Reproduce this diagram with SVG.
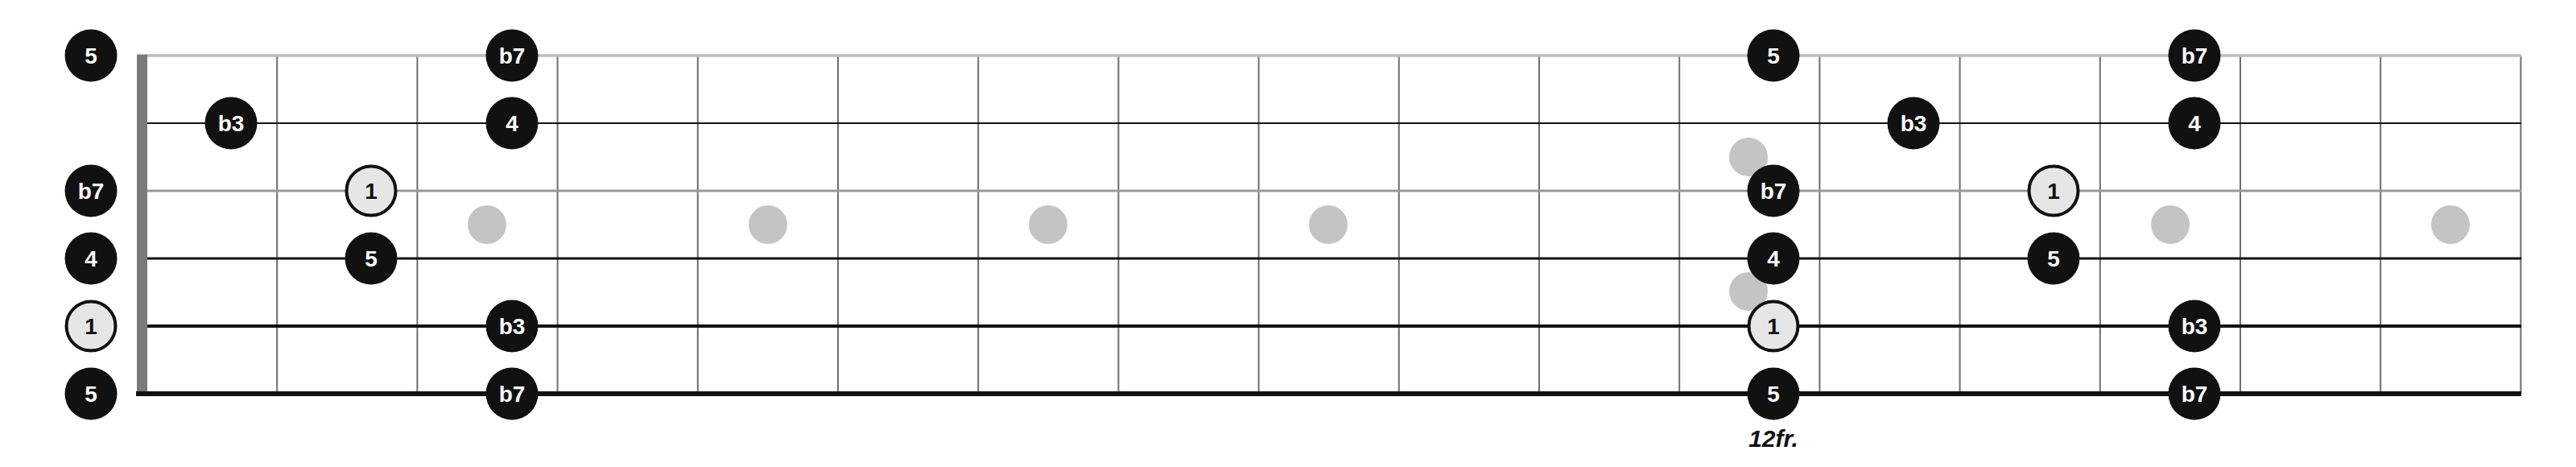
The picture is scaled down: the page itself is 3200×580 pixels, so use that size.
<svg xmlns="http://www.w3.org/2000/svg" width="3200" height="580" viewBox="0 0 3200 580">
<style>
.fret{stroke:#6e6e6e;stroke-width:2}
.dot{fill:#c4c4c4}
.n circle{fill:#111}
.n text{fill:#fff;font-family:"Liberation Sans",Arial,sans-serif;font-weight:bold;font-size:28px;text-anchor:middle}
.r circle{fill:#e6e6e6;stroke:#111;stroke-width:4}
.r text{fill:#111;font-family:"Liberation Sans",Arial,sans-serif;font-weight:bold;font-size:28px;text-anchor:middle}
.lbl{font-family:"Liberation Sans",Arial,sans-serif;font-weight:bold;font-style:italic;font-size:30px;text-anchor:middle;fill:#111}
</style>
<rect width="3200" height="580" fill="#fff"/>
<g id="fretboard">
<g id="frets">
<line class="fret" x1="344.2" y1="69" x2="344.2" y2="489"/>
<line class="fret" x1="518.4" y1="69" x2="518.4" y2="489"/>
<line class="fret" x1="692.6" y1="69" x2="692.6" y2="489"/>
<line class="fret" x1="866.8" y1="69" x2="866.8" y2="489"/>
<line class="fret" x1="1041" y1="69" x2="1041" y2="489"/>
<line class="fret" x1="1215.2" y1="69" x2="1215.2" y2="489"/>
<line class="fret" x1="1389.4" y1="69" x2="1389.4" y2="489"/>
<line class="fret" x1="1563.6" y1="69" x2="1563.6" y2="489"/>
<line class="fret" x1="1737.8" y1="69" x2="1737.8" y2="489"/>
<line class="fret" x1="1912" y1="69" x2="1912" y2="489"/>
<line class="fret" x1="2086.2" y1="69" x2="2086.2" y2="489"/>
<line class="fret" x1="2260.4" y1="69" x2="2260.4" y2="489"/>
<line class="fret" x1="2434.6" y1="69" x2="2434.6" y2="489"/>
<line class="fret" x1="2608.8" y1="69" x2="2608.8" y2="489"/>
<line class="fret" x1="2783" y1="69" x2="2783" y2="489"/>
<line class="fret" x1="2957.2" y1="69" x2="2957.2" y2="489"/>
<line class="fret" x1="3131.4" y1="69" x2="3131.4" y2="489"/>
</g>
<g id="strings">
<line x1="170" y1="69" x2="3132" y2="69" stroke="#bdbdbd" stroke-width="3.5"/>
<line x1="170" y1="153" x2="3132" y2="153" stroke="#111" stroke-width="2"/>
<line x1="170" y1="237" x2="3132" y2="237" stroke="#9a9a9a" stroke-width="3"/>
<line x1="170" y1="321" x2="3132" y2="321" stroke="#111" stroke-width="3"/>
<line x1="170" y1="405" x2="3132" y2="405" stroke="#111" stroke-width="4"/>
<line x1="169" y1="489" x2="3132" y2="489" stroke="#111" stroke-width="6"/>
</g>
<rect id="nut" x="170" y="68" width="13" height="418" fill="#7a7a7a"/>
<g id="inlays">
<circle class="dot" cx="605" cy="279" r="24"/>
<circle class="dot" cx="954" cy="279" r="24"/>
<circle class="dot" cx="1302" cy="279" r="24"/>
<circle class="dot" cx="1650" cy="279" r="24"/>
<circle class="dot" cx="2172" cy="195" r="24"/>
<circle class="dot" cx="2172" cy="362" r="24"/>
<circle class="dot" cx="2696" cy="279" r="24"/>
<circle class="dot" cx="3044" cy="279" r="24"/>
</g>
</g>
<g id="connectors"></g>
<g id="n-0-1" class="n"><circle cx="113" cy="69" r="32.5"/><text x="113" y="79">5</text></g>
<g id="n-0-3" class="n"><circle cx="113" cy="237" r="32.5"/><text x="113" y="247">b7</text></g>
<g id="n-0-4" class="n"><circle cx="113" cy="321" r="32.5"/><text x="113" y="331">4</text></g>
<g id="n-0-5" class="r"><circle cx="113" cy="405" r="30.5"/><text x="113" y="415">1</text></g>
<g id="n-0-6" class="n"><circle cx="113" cy="489" r="32.5"/><text x="113" y="499">5</text></g>
<g id="n-1-2" class="n"><circle cx="287" cy="153" r="32.5"/><text x="287" y="163">b3</text></g>
<g id="n-2-3" class="r"><circle cx="461" cy="237" r="30.5"/><text x="461" y="247">1</text></g>
<g id="n-2-4" class="n"><circle cx="461" cy="321" r="32.5"/><text x="461" y="331">5</text></g>
<g id="n-3-1" class="n"><circle cx="636" cy="69" r="32.5"/><text x="636" y="79">b7</text></g>
<g id="n-3-2" class="n"><circle cx="636" cy="153" r="32.5"/><text x="636" y="163">4</text></g>
<g id="n-3-5" class="n"><circle cx="636" cy="405" r="32.5"/><text x="636" y="415">b3</text></g>
<g id="n-3-6" class="n"><circle cx="636" cy="489" r="32.5"/><text x="636" y="499">b7</text></g>
<g id="n-12-1" class="n"><circle cx="2203" cy="69" r="32.5"/><text x="2203" y="79">5</text></g>
<g id="n-12-3" class="n"><circle cx="2203" cy="237" r="32.5"/><text x="2203" y="247">b7</text></g>
<g id="n-12-4" class="n"><circle cx="2203" cy="321" r="32.5"/><text x="2203" y="331">4</text></g>
<g id="n-12-5" class="r"><circle cx="2203" cy="405" r="30.5"/><text x="2203" y="415">1</text></g>
<g id="n-12-6" class="n"><circle cx="2203" cy="489" r="32.5"/><text x="2203" y="499">5</text></g>
<g id="n-13-2" class="n"><circle cx="2377" cy="153" r="32.5"/><text x="2377" y="163">b3</text></g>
<g id="n-14-3" class="r"><circle cx="2551" cy="237" r="30.5"/><text x="2551" y="247">1</text></g>
<g id="n-14-4" class="n"><circle cx="2551" cy="321" r="32.5"/><text x="2551" y="331">5</text></g>
<g id="n-15-1" class="n"><circle cx="2726" cy="69" r="32.5"/><text x="2726" y="79">b7</text></g>
<g id="n-15-2" class="n"><circle cx="2726" cy="153" r="32.5"/><text x="2726" y="163">4</text></g>
<g id="n-15-5" class="n"><circle cx="2726" cy="405" r="32.5"/><text x="2726" y="415">b3</text></g>
<g id="n-15-6" class="n"><circle cx="2726" cy="489" r="32.5"/><text x="2726" y="499">b7</text></g>
<g id="label-12fr"><text class="lbl" x="2203" y="555">12fr.</text></g>
</svg>
